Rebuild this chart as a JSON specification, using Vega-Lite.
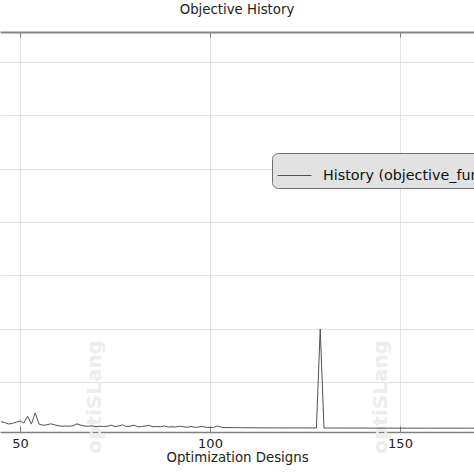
{
  "$schema": "https://vega.github.io/schema/vega-lite/v6.json",
  "width": 474,
  "height": 400,
  "autosize": {"type": "none"},
  "padding": {"left": 0, "top": 32, "right": 0, "bottom": 42},
  "background": "white",
  "config": {
    "font": "DejaVu Sans",
    "view": {"stroke": null},
    "axis": {"labelFont": "DejaVu Sans", "titleFont": "DejaVu Sans", "labelFontSize": 13, "titleFontSize": 13.3, "labelColor": "#222", "titleColor": "#222", "titleFontWeight": "normal"}
  },
  "title": {"text": "Objective History", "fontSize": 13.3, "fontWeight": "normal", "font": "DejaVu Sans", "color": "#222", "anchor": "middle", "offset": 15},
  "layer": [
    {
      "data": {"values": [
        {"x": 69.7, "y": 0.72, "t": "optiSLang"},
        {"x": 145, "y": 0.72, "t": "optiSLang"}
      ]},
      "mark": {"type": "text", "angle": 270, "align": "center", "baseline": "middle", "fontSize": 20, "fontWeight": "bold", "color": "#ededed", "font": "DejaVu Sans"},
      "encoding": {
        "x": {"field": "x", "type": "quantitative", "scale": {"domain": [44.74, 169.47], "nice": false, "zero": false},
          "axis": {"orient": "top", "labels": false, "title": null, "values": [50, 100, 150], "grid": true, "gridColor": "#e4e4e4", "domainColor": "#858585", "domainWidth": 2, "tickColor": "#808080", "tickSize": -5, "tickWidth": 1}},
        "y": {"field": "y", "type": "quantitative", "scale": {"domain": [0.062, 7.563], "nice": false, "zero": false},
          "axis": {"values": [1, 2, 3, 4, 5, 6, 7], "labels": false, "ticks": false, "domain": false, "title": null, "grid": true, "gridColor": "#e4e4e4"}},
        "text": {"field": "t"}
      }
    },
    {
      "data": {"values": [
        {"design": 45, "obj": 0.255}, {"design": 46, "obj": 0.24}, {"design": 47, "obj": 0.212}, {"design": 48, "obj": 0.225},
        {"design": 49, "obj": 0.245}, {"design": 50, "obj": 0.27}, {"design": 51, "obj": 0.23}, {"design": 52, "obj": 0.36},
        {"design": 53, "obj": 0.21}, {"design": 54, "obj": 0.42}, {"design": 55, "obj": 0.21}, {"design": 56, "obj": 0.19},
        {"design": 57, "obj": 0.195}, {"design": 58, "obj": 0.215}, {"design": 59, "obj": 0.2}, {"design": 60, "obj": 0.18},
        {"design": 61, "obj": 0.17}, {"design": 62, "obj": 0.175}, {"design": 63, "obj": 0.17}, {"design": 64, "obj": 0.18},
        {"design": 65, "obj": 0.215}, {"design": 66, "obj": 0.19}, {"design": 67, "obj": 0.175}, {"design": 68, "obj": 0.17},
        {"design": 69, "obj": 0.175}, {"design": 70, "obj": 0.165}, {"design": 71, "obj": 0.17}, {"design": 72, "obj": 0.165},
        {"design": 73, "obj": 0.17}, {"design": 74, "obj": 0.19}, {"design": 75, "obj": 0.165}, {"design": 76, "obj": 0.175},
        {"design": 77, "obj": 0.195}, {"design": 78, "obj": 0.165}, {"design": 79, "obj": 0.17}, {"design": 80, "obj": 0.19},
        {"design": 81, "obj": 0.16}, {"design": 82, "obj": 0.165}, {"design": 83, "obj": 0.175}, {"design": 84, "obj": 0.185},
        {"design": 85, "obj": 0.16}, {"design": 86, "obj": 0.165}, {"design": 87, "obj": 0.16}, {"design": 88, "obj": 0.175},
        {"design": 89, "obj": 0.155}, {"design": 90, "obj": 0.16}, {"design": 91, "obj": 0.155}, {"design": 92, "obj": 0.17},
        {"design": 93, "obj": 0.16}, {"design": 94, "obj": 0.15}, {"design": 95, "obj": 0.165}, {"design": 96, "obj": 0.15},
        {"design": 97, "obj": 0.155}, {"design": 98, "obj": 0.165}, {"design": 99, "obj": 0.15}, {"design": 100, "obj": 0.145},
        {"design": 101, "obj": 0.15}, {"design": 102, "obj": 0.175}, {"design": 103, "obj": 0.15}, {"design": 104, "obj": 0.145},
        {"design": 105, "obj": 0.145}, {"design": 106, "obj": 0.143}, {"design": 107, "obj": 0.144}, {"design": 108, "obj": 0.142},
        {"design": 109, "obj": 0.142}, {"design": 110, "obj": 0.141}, {"design": 111, "obj": 0.141}, {"design": 112, "obj": 0.14},
        {"design": 113, "obj": 0.14}, {"design": 114, "obj": 0.14}, {"design": 115, "obj": 0.139}, {"design": 116, "obj": 0.139},
        {"design": 117, "obj": 0.139}, {"design": 118, "obj": 0.139}, {"design": 119, "obj": 0.138}, {"design": 120, "obj": 0.138},
        {"design": 121, "obj": 0.138}, {"design": 122, "obj": 0.138}, {"design": 123, "obj": 0.138}, {"design": 124, "obj": 0.138},
        {"design": 125, "obj": 0.138}, {"design": 126, "obj": 0.138}, {"design": 127, "obj": 0.138}, {"design": 128, "obj": 0.138},
        {"design": 129, "obj": 1.994}, {"design": 130, "obj": 0.137}, {"design": 131, "obj": 0.137}, {"design": 132, "obj": 0.137},
        {"design": 133, "obj": 0.137}, {"design": 134, "obj": 0.137}, {"design": 135, "obj": 0.137}, {"design": 136, "obj": 0.136},
        {"design": 137, "obj": 0.136}, {"design": 138, "obj": 0.136}, {"design": 139, "obj": 0.136}, {"design": 140, "obj": 0.136},
        {"design": 141, "obj": 0.136}, {"design": 142, "obj": 0.135}, {"design": 143, "obj": 0.135}, {"design": 144, "obj": 0.135},
        {"design": 145, "obj": 0.135}, {"design": 146, "obj": 0.135}, {"design": 147, "obj": 0.135}, {"design": 148, "obj": 0.135},
        {"design": 149, "obj": 0.134}, {"design": 150, "obj": 0.134}, {"design": 151, "obj": 0.134}, {"design": 152, "obj": 0.134},
        {"design": 153, "obj": 0.134}, {"design": 154, "obj": 0.134}, {"design": 155, "obj": 0.134}, {"design": 156, "obj": 0.134},
        {"design": 157, "obj": 0.134}, {"design": 158, "obj": 0.134}, {"design": 159, "obj": 0.134}, {"design": 160, "obj": 0.134},
        {"design": 161, "obj": 0.134}, {"design": 162, "obj": 0.134}, {"design": 163, "obj": 0.134}, {"design": 164, "obj": 0.134},
        {"design": 165, "obj": 0.134}, {"design": 166, "obj": 0.134}, {"design": 167, "obj": 0.134}, {"design": 168, "obj": 0.134},
        {"design": 169, "obj": 0.134}, {"design": 170, "obj": 0.134}
      ]},
      "mark": {"type": "line", "strokeWidth": 1, "clip": true, "interpolate": "linear"},
      "encoding": {
        "x": {"field": "design", "type": "quantitative",
          "axis": {"orient": "bottom", "title": "Optimization Designs", "values": [50, 100, 150], "grid": false, "domainColor": "#808080", "domainWidth": 1.5, "tickColor": "#808080", "tickSize": -6, "labelPadding": 11, "titlePadding": 0}},
        "y": {"field": "obj", "type": "quantitative"},
        "color": {"datum": "History (objective_function)", "type": "nominal",
          "scale": {"range": ["#505050"]},
          "legend": {"orient": "none", "legendX": 272, "legendY": 121, "title": null, "symbolType": "stroke", "symbolSize": 1156, "symbolStrokeWidth": 1, "labelFontSize": 14.3, "labelFont": "DejaVu Sans", "labelColor": "#111", "labelOffset": 11, "fillColor": "#e2e2e2", "strokeColor": "#707070", "cornerRadius": 6, "padding": 5, "labelLimit": 400}}
      }
    }
  ],
  "resolve": {"axis": {"x": "independent"}}
}
